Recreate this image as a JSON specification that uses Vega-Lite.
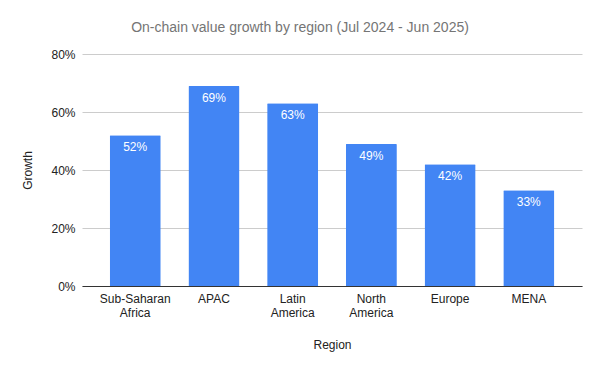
{
  "$schema": "https://vega.github.io/schema/vega-lite/v6.json",
  "autosize": {"type": "none"},
  "width": 500,
  "height": 232,
  "padding": {"left": 82, "top": 54, "right": 18, "bottom": 85},
  "background": "white",
  "config": {
    "font": "Liberation Sans",
    "view": {"stroke": null}
  },
  "title": {
    "text": "On-chain value growth by region (Jul 2024 - Jun 2025)",
    "color": "#757575",
    "fontSize": 14,
    "fontWeight": "normal",
    "font": "Liberation Sans",
    "anchor": "middle",
    "dx": -32,
    "offset": 13
  },
  "data": {
    "values": [
      {"region": "Sub-Saharan Africa", "growth": 0.52},
      {"region": "APAC", "growth": 0.69},
      {"region": "Latin America", "growth": 0.63},
      {"region": "North America", "growth": 0.49},
      {"region": "Europe", "growth": 0.42},
      {"region": "MENA", "growth": 0.33}
    ]
  },
  "encoding": {
    "x": {
      "field": "region",
      "type": "nominal",
      "sort": null,
      "scale": {"paddingInner": 0.352, "paddingOuter": 0.352},
      "axis": {
        "title": "Region",
        "titleFontSize": 12,
        "titleFontWeight": "normal",
        "titleColor": "#222222",
        "titlePadding": 21,
        "labelAngle": 0,
        "labelFontSize": 12,
        "labelColor": "#222222",
        "labelPadding": 7,
        "labelLineHeight": 14,
        "labelExpr": "split(datum.label, ' ')",
        "ticks": false,
        "domainColor": "#333333",
        "grid": false
      }
    },
    "y": {
      "field": "growth",
      "type": "quantitative",
      "scale": {"domain": [0, 0.8]},
      "axis": {
        "title": "Growth",
        "titleFontSize": 12,
        "titleFontWeight": "normal",
        "titleColor": "#222222",
        "titlePadding": 16,
        "values": [0, 0.2, 0.4, 0.6, 0.8],
        "format": ".0%",
        "labelFontSize": 12,
        "labelColor": "#222222",
        "labelPadding": 7,
        "ticks": false,
        "domain": false,
        "gridColor": "#cccccc"
      }
    }
  },
  "layer": [
    {
      "mark": {"type": "bar", "color": "#4285F4", "cornerRadiusTopLeft": 1, "cornerRadiusTopRight": 1}
    },
    {
      "mark": {"type": "text", "color": "white", "fontSize": 12, "baseline": "middle", "dy": 12},
      "encoding": {
        "text": {"field": "growth", "type": "quantitative", "format": ".0%"}
      }
    }
  ]
}
